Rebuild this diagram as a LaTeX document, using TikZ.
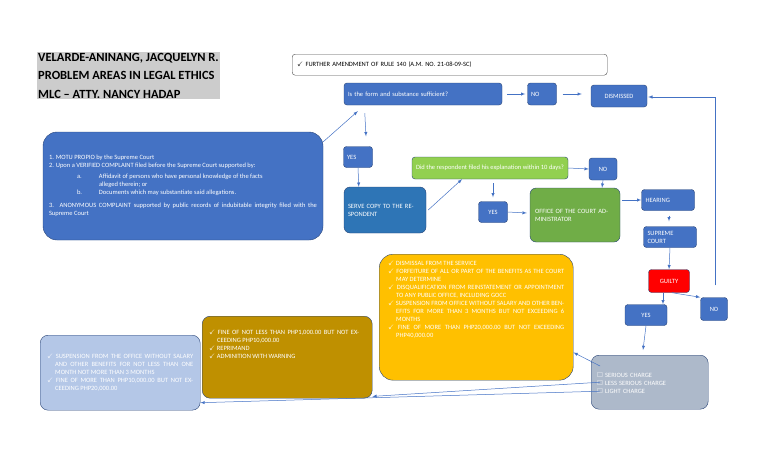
\documentclass[tikz,border=0pt]{standalone}
\usepackage{fontspec}
\setmainfont{Carlito}
\usepackage{amssymb}
\usetikzlibrary{calc}
\definecolor{boxblue}{HTML}{4472C4}
\definecolor{serveblue}{HTML}{2E75B6}
\definecolor{lightgreen}{HTML}{92D050}
\definecolor{ocagreen}{HTML}{70AD47}
\definecolor{gold}{HTML}{FFC000}
\definecolor{brown}{HTML}{BF9000}
\definecolor{slate}{HTML}{ADB9CA}
\definecolor{paleblue}{HTML}{B4C7E7}
\tikzset{
  box/.style={draw=boxblue!60!black, fill=#1, rounded corners=3pt, text=white, font=\fontsize{6.5}{8}\selectfont, inner sep=3pt},
  box/.default=boxblue,
  big/.style={box=#1, rounded corners=14pt, align=justify},
  link/.style={draw=boxblue, -latex, line width=0.5pt}
}
\newcommand{\ck}{\checkmark\ }
\begin{document}
\begin{tikzpicture}[x=1pt,y=-1pt]
  \useasboundingbox (0,0) rectangle (768,466);
  % header
  \node[fill=black!20, inner sep=1pt, anchor=north west, align=left, font=\bfseries\fontsize{12.5}{18.5}\selectfont] (title) at (37,52)
    {VELARDE-ANINANG, JACQUELYN R.\\PROBLEM AREAS IN LEGAL ETHICS\\MLC -- ATTY. NANCY HADAP};
  \node[draw=black!70, rounded corners=3pt, minimum width=315, minimum height=21, anchor=north west, text width=305, align=left, font=\fontsize{6.5}{8}\selectfont] (rule) at (292,54)
    {\ck FURTHER AMENDMENT OF RULE 140 (A.M. NO. 21-08-09-SC)};
  % flow
  \node[box, minimum width=158, minimum height=22, text width=150, align=left] (form) at (423,94) {Is the form and substance sufficient?};
  \node[box, minimum width=29, minimum height=22, text width=22, align=left] (no1) at (542,94) {NO};
  \node[box, minimum width=56, minimum height=22] (dism) at (619,96) {DISMISSED};
  \node[big, minimum width=280, minimum height=108, text width=268] (ways) at (183,186)
    {1. MOTU PROPIO by the Supreme Court\\2. Upon a VERIFIED COMPLAINT filed before the Supreme Court supported by:\\[3pt]
     \hspace*{28pt}\parbox[t]{238pt}{\makebox[22pt][l]{a.}Affidavit of persons who have personal knowledge of the facts\\\hspace*{22pt}alleged therein; or\\\makebox[22pt][l]{b.}Documents which may substantiate said allegations.}\\[6pt]
     3. ANONYMOUS COMPLAINT supported by public records of indubitable integrity filed with the Supreme Court};
  \node[box, minimum width=29, minimum height=21, text width=22, align=left] (yes1) at (358,157) {YES};
  \node[box=serveblue, rounded corners=6pt, minimum width=82, minimum height=46, text width=74, align=left] (serve) at (385,210) {SERVE COPY TO THE RESPONDENT};
  \node[box=lightgreen, minimum width=156, minimum height=22, text width=148, align=justify] (did) at (490,168) {Did the respondent filed his explanation within 10 days?};
  \node[box, minimum width=28, minimum height=22] (no2) at (603,169) {NO};
  \node[box, minimum width=29, minimum height=21] (yes2) at (493,212) {YES};
  \node[box=ocagreen, rounded corners=6pt, minimum width=90, minimum height=54, text width=80, align=left] (oca) at (575,215) {OFFICE OF THE COURT ADMINISTRATOR};
  \node[box, minimum width=53, minimum height=21, text width=45, align=left] (hear) at (668,200) {HEARING};
  \node[box, minimum width=53, minimum height=21, text width=45, align=left] (sc) at (670,237) {SUPREME COURT};
  \node[box=red, minimum width=41, minimum height=23] (guilty) at (669,281) {GUILTY};
  \node[box, minimum width=42, minimum height=21] (yes3) at (646,315) {YES};
  \node[box, minimum width=27, minimum height=23] (no3) at (714,309) {NO};
  % penalties
  \node[big=gold, minimum width=194, minimum height=126, text width=176, anchor=north west, align=justify] (gold) at (379,254)
    {\parbox[t]{176pt}{\vspace*{-2pt}\leftskip=8pt\parindent=-8pt
     \ck DISMISSAL FROM THE SERVICE\par
     \ck FORFEITURE OF ALL OR PART OF THE BENEFITS AS THE COURT MAY DETERMINE\par
     \ck DISQUALIFICATION FROM REINSTATEMENT OR APPOINTMENT TO ANY PUBLIC OFFICE, INCLUDING GOCC\par
     \ck SUSPENSION FROM OFFICE WITHOUT SALARY AND OTHER BENEFITS FOR MORE THAN 3 MONTHS BUT NOT EXCEEDING 6 MONTHS\par
     \ck FINE OF MORE THAN PHP20,000.00 BUT NOT EXCEEDING PHP40,000.00\par\vspace*{34pt}}};
  \node[big=slate, rounded corners=8pt, minimum width=117, minimum height=54, text width=105, anchor=north west, align=left] (charge) at (591,355)
    {\\[-2pt]$\square$ SERIOUS CHARGE\\$\square$ LESS SERIOUS CHARGE\\$\square$ LIGHT CHARGE\\[6pt]};
  \node[big=brown, rounded corners=8pt, minimum width=170, minimum height=82, text width=156, anchor=north west] (brown) at (202,316)
    {\parbox[t]{150pt}{\leftskip=8pt\parindent=-8pt
     \ck FINE OF NOT LESS THAN PHP1,000.00 BUT NOT EXCEEDING PHP10,000.00\par
     \ck REPRIMAND\par
     \ck ADMINITION WITH WARNING\par\vspace*{26pt}}};
  \node[big=paleblue, rounded corners=8pt, minimum width=160, minimum height=75, text width=146, anchor=north west] (pale) at (40,335)
    {\parbox[t]{146pt}{\leftskip=8pt\parindent=-8pt
     \ck SUSPENSION FROM THE OFFICE WITHOUT SALARY AND OTHER BENEFITS FOR NOT LESS THAN ONE MONTH NOT MORE THAN 3 MONTHS\par
     \ck FINE OF MORE THAN PHP10,000.00 BUT NOT EXCEEDING PHP20,000.00\par}};
  % connectors
  \draw[link] (ways.north east) ++(0,10) -- ($(form.south west)+(14,6)$);
  \draw[link] ($(form.south west)+(21,8)$) -- ($(yes1.north)+(8,-10)$);
  \draw[link] ($(form.east)+(5,0)$) -- ($(no1.west)+(-2,0)$);
  \draw[link] ($(no1.east)+(6,0)$) -- ($(dism.west)+(-9,-2)$);
  \draw[link] (yes1.south) -- ($(serve.north west)+(15,0)$);
  \draw[link] ($(serve.east)+(2,0)$) -- ($(did.south)+(-28,0)$);
  \draw[link] (did.east) -- (no2.west);
  \draw[link] (no2.south) -- ($(oca.north)+(27,0)$);
  \draw[link] ($(did.south)+(3,4)$) -- ($(yes2.north)+(0,-4)$);
  \draw[link] (yes2.east) -- ($(oca.west)+(-3,-2)$);
  \draw[link] ($(oca.east)+(2,-15)$) -- (hear.west);
  \draw[link] ($(hear.south)+(1,5)$) -- ($(sc.north)+(-1,-5)$);
  \draw[link] (sc.south) -- (guilty.north);
  \draw[link] ($(guilty.south)+(-6,0)$) -- ($(yes3.north)+(17,0)$);
  \draw[link] ($(guilty.south)+(3,0)$) -- (no3.north west);
  \draw[link] (no3.north) ++(1,-12) |- ($(dism.east)+(1,1)$);
  \draw[link] (yes3.south) -- ($(charge.north west)+(52,-5)$);
  \draw[link] ($(charge.north west)+(9,11)$) -- ($(gold.south east)+(0,-28)$);
  \draw[link] ($(charge.west)+(9,0)$) -- ($(brown.south east)+(0,-2)$);
  \draw[link] ($(charge.west)+(9,9)$) -- ($(pale.east)+(0,30)$);
\end{tikzpicture}
\end{document}
